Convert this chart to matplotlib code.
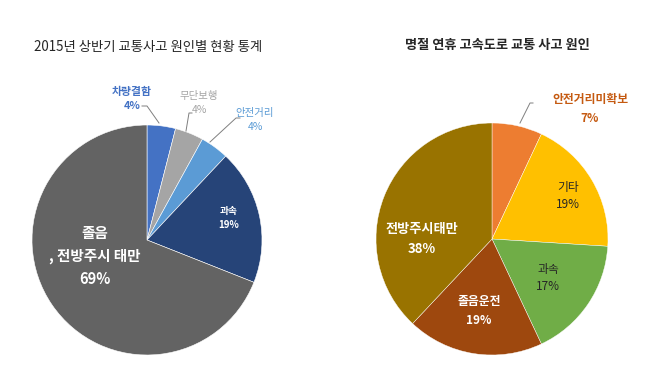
import matplotlib.pyplot as plt

plt.rcParams['font.family'] = ['Noto Sans CJK KR', 'DejaVu Sans']

# left chart: 2015 first half
left_labels = ['차량결함', '무단보행', '안전거리', '과속', '졸음\n, 전방주시 태만']
left_values = [4, 4, 4, 19, 69]
left_colors = ['#4472C4', '#A5A5A5', '#5B9BD5', '#264478', '#636363']

# right chart: holiday expressway
right_labels = ['안전거리미확보', '기타', '과속', '졸음운전', '전방주시태만']
right_values = [7, 19, 17, 19, 38]
right_colors = ['#ED7D31', '#FFC000', '#70AD47', '#9E480E', '#997300']

W, H = 658, 376
fig = plt.figure(figsize=(W / 100, H / 100), dpi=100)
ax = fig.add_axes([0, 0, 1, 1])


def py(y):
    # pixel row -> data y
    return H - y


ax.pie(left_values, colors=left_colors, startangle=90, counterclock=False,
       center=(147, py(240)), radius=115, frame=True,
       wedgeprops=dict(edgecolor='white', linewidth=0.4))
ax.pie(right_values, colors=right_colors, startangle=90, counterclock=False,
       center=(492, py(239)), radius=116, frame=True,
       wedgeprops=dict(edgecolor='white', linewidth=0.3))
ax.set_xlim(0, W)
ax.set_ylim(0, H)
ax.set_aspect('equal')
ax.axis('off')

# titles
ax.text(34, py(47), '2015년 상반기 교통사고 원인별 현황 통계', fontsize=9.6,
        color='#262626', ha='left', va='center')
ax.text(497, py(45), '명절 연휴 고속도로 교통 사고 원인', fontsize=9.5,
        color='#262626', ha='center', va='center', fontweight='bold')

# left labels
ax.text(132, py(99), f'{left_labels[0]}\n{left_values[0]}%', fontsize=7.8,
        color='#4472C4', ha='center', va='center', fontweight='bold', linespacing=1.5)
ax.plot([142, 147, 159], [py(106), py(106), py(123)], color='#7F7F7F', lw=0.7)
ax.text(199, py(103), f'{left_labels[1]}\n{left_values[1]}%', fontsize=7.5,
        color='#A5A5A5', ha='center', va='center', linespacing=1.5)
ax.plot([192, 189, 186], [py(113), py(113), py(131)], color='#7F7F7F', lw=0.7)
ax.text(255, py(120), f'{left_labels[2]}\n{left_values[2]}%', fontsize=7.5,
        color='#5B9BD5', ha='center', va='center', linespacing=1.5)
ax.plot([240, 236, 210], [py(118), py(118), py(142)], color='#7F7F7F', lw=0.7)
ax.text(229, py(218), f'{left_labels[3]}\n{left_values[3]}%', fontsize=7,
        color='white', ha='center', va='center', fontweight='bold', linespacing=1.6)
ax.text(95, py(256), f'{left_labels[4]}\n{left_values[4]}%', fontsize=10.5,
        color='white', ha='center', va='center', fontweight='bold', linespacing=1.5)

# right labels
ax.text(590, py(109), f'{right_labels[0]}\n{right_values[0]}%', fontsize=8.5,
        color='#C55A11', ha='center', va='center', fontweight='bold', linespacing=1.5)
ax.plot([533, 530, 520], [py(103), py(103), py(123)], color='#7F7F7F', lw=0.7)
ax.text(568, py(196), f'{right_labels[1]}\n{right_values[1]}%', fontsize=8.5,
        color='#262626', ha='center', va='center', linespacing=1.5)
ax.text(548, py(278), f'{right_labels[2]}\n{right_values[2]}%', fontsize=8.5,
        color='#262626', ha='center', va='center', linespacing=1.5)
ax.text(479, py(311), f'{right_labels[3]}\n{right_values[3]}%', fontsize=8.5,
        color='white', ha='center', va='center', fontweight='bold', linespacing=1.5)
ax.text(422, py(239), f'{right_labels[4]}\n{right_values[4]}%', fontsize=9.5,
        color='white', ha='center', va='center', fontweight='bold', linespacing=1.5)

fig.savefig('out.png', dpi=100, facecolor='white')
